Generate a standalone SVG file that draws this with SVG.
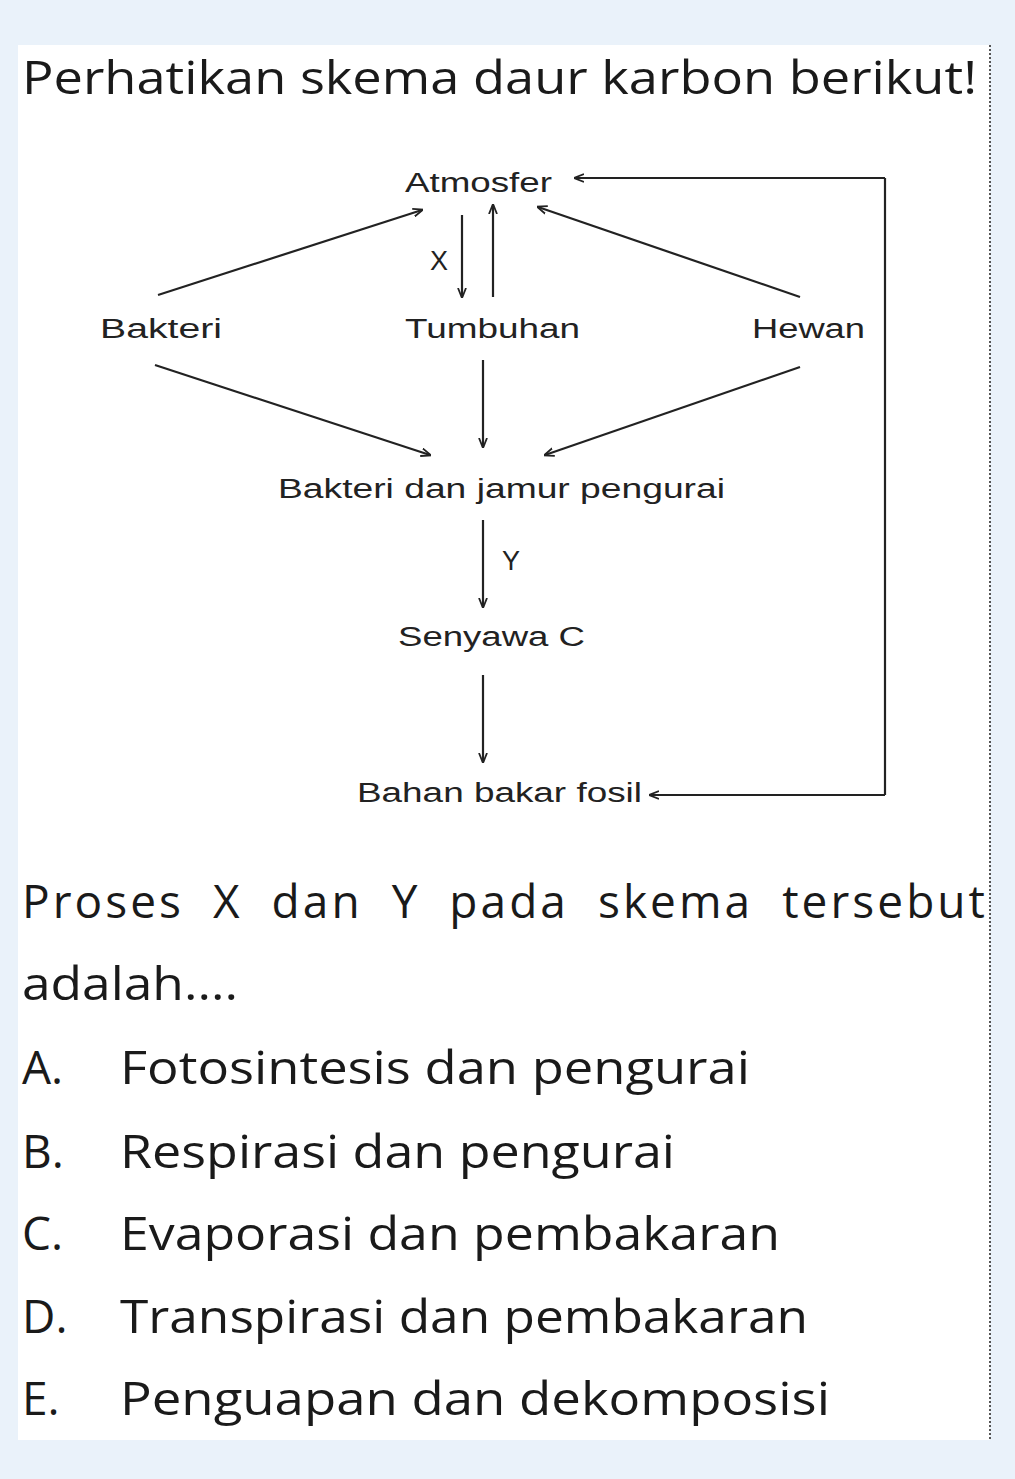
<svg xmlns="http://www.w3.org/2000/svg" width="1015" height="1479" viewBox="0 0 1015 1479">
<defs>
<marker id="ah" viewBox="0 0 10 10" refX="9" refY="5" markerWidth="10" markerHeight="10" markerUnits="userSpaceOnUse" orient="auto"><path d="M0,1 L10,5 L0,9" fill="none" stroke="#222" stroke-width="1.8"/></marker>
<style>
.q{font-family:"Open Sans","Liberation Sans",sans-serif;font-size:46px;fill:#1a1a1a}
.n{font-family:"Liberation Sans",Arial,sans-serif;font-size:27px;fill:#222}
.c{stroke:#222;stroke-width:2.2;fill:none;marker-end:url(#ah)}
</style>
</defs>
<rect width="1015" height="1479" fill="#eaf2fa"/>
<rect x="18" y="45" width="972" height="1395" fill="#fff"/>
<line x1="990" y1="45" x2="990" y2="1440" stroke="#555" stroke-width="2" stroke-dasharray="2,2"/>
<text class="q" x="22" y="94" textLength="955" lengthAdjust="spacingAndGlyphs">Perhatikan skema daur karbon berikut!</text>
<g id="atmosfer"><text class="n" x="405" y="192" textLength="147" lengthAdjust="spacingAndGlyphs">Atmosfer</text></g>
<g id="bakteri"><text class="n" x="100" y="338" textLength="122" lengthAdjust="spacingAndGlyphs">Bakteri</text></g>
<g id="tumbuhan"><text class="n" x="405" y="338" textLength="175" lengthAdjust="spacingAndGlyphs">Tumbuhan</text></g>
<g id="hewan"><text class="n" x="752" y="338" textLength="113" lengthAdjust="spacingAndGlyphs">Hewan</text></g>
<g id="pengurai"><text class="n" x="278" y="498" textLength="447" lengthAdjust="spacingAndGlyphs">Bakteri dan jamur pengurai</text></g>
<g id="senyawa"><text class="n" x="398" y="646" textLength="187" lengthAdjust="spacingAndGlyphs">Senyawa C</text></g>
<g id="fosil"><text class="n" x="357" y="802" textLength="285" lengthAdjust="spacingAndGlyphs">Bahan bakar fosil</text></g>
<g id="connectors">
<line class="c" x1="158" y1="295" x2="422" y2="210"/>
<line class="c" x1="800" y1="297" x2="538" y2="207"/>
<line class="c" x1="462" y1="215" x2="462" y2="297"/>
<line class="c" x1="493" y1="297" x2="493" y2="205"/>
<line class="c" x1="483" y1="360" x2="483" y2="447"/>
<line class="c" x1="155" y1="365" x2="430" y2="455"/>
<line class="c" x1="800" y1="367" x2="545" y2="455"/>
<line class="c" x1="483" y1="520" x2="483" y2="607"/>
<line class="c" x1="483" y1="675" x2="483" y2="762"/>
<polyline points="885,795 885,178" stroke="#222" stroke-width="2.2" fill="none"/>
<line class="c" x1="885" y1="178" x2="575" y2="178"/>
<line class="c" x1="885" y1="795" x2="650" y2="795"/>
<text class="n" x="430" y="270">X</text>
<text class="n" x="502" y="570">Y</text>
</g>
<text class="q" x="22" y="918" textLength="963" lengthAdjust="spacing" word-spacing="14">Proses X dan Y pada skema tersebut</text>
<text class="q" x="22" y="1000" textLength="216" lengthAdjust="spacingAndGlyphs">adalah....</text>
<text class="q" x="22" y="1084">A.</text><text class="q" x="120" y="1084" textLength="630" lengthAdjust="spacingAndGlyphs">Fotosintesis dan pengurai</text>
<text class="q" x="22" y="1168">B.</text><text class="q" x="120" y="1168" textLength="555" lengthAdjust="spacingAndGlyphs">Respirasi dan pengurai</text>
<text class="q" x="22" y="1250">C.</text><text class="q" x="120" y="1250" textLength="660" lengthAdjust="spacingAndGlyphs">Evaporasi dan pembakaran</text>
<text class="q" x="22" y="1333">D.</text><text class="q" x="120" y="1333" textLength="688" lengthAdjust="spacingAndGlyphs">Transpirasi dan pembakaran</text>
<text class="q" x="22" y="1415">E.</text><text class="q" x="120" y="1415" textLength="710" lengthAdjust="spacingAndGlyphs">Penguapan dan dekomposisi</text>
</svg>
